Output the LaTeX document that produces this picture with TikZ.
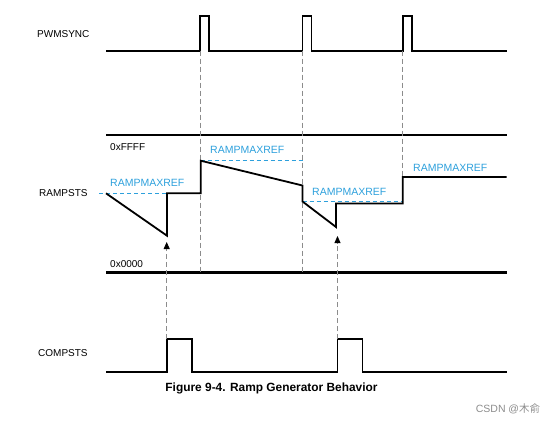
\documentclass[tikz,border=0pt]{standalone}
\usepackage{fontspec}
\setmainfont{Liberation Sans}
\newfontfamily\cjkfont{Noto Sans CJK SC}
\usetikzlibrary{arrows.meta}
\definecolor{refblue}{RGB}{45,160,220}
\definecolor{guidegray}{RGB}{140,140,140}
\begin{document}
\begin{tikzpicture}[x=1pt, y=-1pt,
	signal/.style={black, line width=1.8pt, line join=miter},
	rail/.style={black, line width=2.8pt},
	guide/.style={guidegray, line width=0.8pt, dash pattern=on 5pt off 3pt},
	refline/.style={refblue, line width=0.8pt, dash pattern=on 4pt off 3pt},
	lbl/.style={anchor=west, inner sep=0pt, font=\fontsize{10}{12}\selectfont},
	reflbl/.style={lbl, text=refblue, font=\fontsize{10.5}{12}\selectfont}]
	\useasboundingbox (0,0) rectangle (558,424);
	% Nombres de las senales
		\node[lbl] (pwm) at (37,34) {PWMSYNC};
		\node[lbl] (ramp) at (39,193) {RAMPSTS};
		\node[lbl] (cmp) at (38,353) {COMPSTS};
		\node[lbl] (top) at (110,147) {0xFFFF};
		\node[lbl] (bot) at (110,264) {0x0000};

	% PWMSYNC
		\draw[signal] (106,50.7) -- (200.3,50.7) -- (200.3,15.7) -- (209.3,15.7) -- (209.3,50.7)
			-- (302.5,50.7) -- (302.5,15.7) -- (311.5,15.7) -- (311.5,50.7)
			-- (402.7,50.7) -- (402.7,15.7) -- (412,15.7) -- (412,50.7) -- (506.7,50.7);

	% Limites 0xFFFF y 0x0000
		\draw[rail] (106,135) -- (506.7,135);
		\draw[rail] (106,272.5) -- (506.7,272.5);

	% Lineas guia
		\draw[guide] (200.3,50.7) -- (200.3,272.5);
		\draw[guide] (302.5,50.7) -- (302.5,272.5);
		\draw[guide] (402.7,50.7) -- (402.7,177);

	% RAMPMAXREF
		\draw[refline] (99,193.3) -- (167,193.3);
		\draw[refline] (200.7,160.5) -- (302.5,160.5);
		\draw[refline] (302.5,201.5) -- (402.7,201.5);
		\node[reflbl] (ref1) at (110,183) {RAMPMAXREF};
		\node[reflbl] (ref2) at (210,150) {RAMPMAXREF};
		\node[reflbl] (ref3) at (312,191.7) {RAMPMAXREF};
		\node[reflbl] (ref4) at (413,167.7) {RAMPMAXREF};

	% RAMPSTS
		\draw[signal] (106,193.3) -- (167,235.7) -- (167,193.3) -- (200.7,193.3) -- (200.7,160.7)
			-- (302.5,185.5) -- (302.5,201.5) -- (336,227) -- (336,203.5) -- (402.7,203.5)
			-- (402.7,177) -- (506.7,177);

	% COMPSTS
		\draw[signal] (106,371.7) -- (166.7,371.7) -- (166.7,339) -- (192.3,339) -- (192.3,371.7)
			-- (337.5,371.7) -- (337.5,339) -- (362.5,339) -- (362.5,371.7) -- (506.7,371.7);

	% Flechas del comparador
		\coordinate (c1) at (166.7,339);
		\coordinate (m1) at (166.7,242);
		\coordinate (c2) at (337.5,339);
		\coordinate (m2) at (337.5,236);
		\draw[guide, -{Triangle[width=6pt, length=7pt, color=black]}] (c1) -- (m1);
		\draw[guide, -{Triangle[width=6pt, length=7pt, color=black]}] (c2) -- (m2);

	% Titulo
		\node[font=\bfseries\fontsize{11.9}{14}\selectfont, inner sep=0pt] (cap) at (271.5,388.5) {Figure 9-4. Ramp Generator Behavior};
		\node[text=guidegray, font=\fontsize{10.5}{12}\selectfont, inner sep=0pt] (mark) at (508,409) {CSDN @{\cjkfont 木俞}};
\end{tikzpicture}
\end{document}
